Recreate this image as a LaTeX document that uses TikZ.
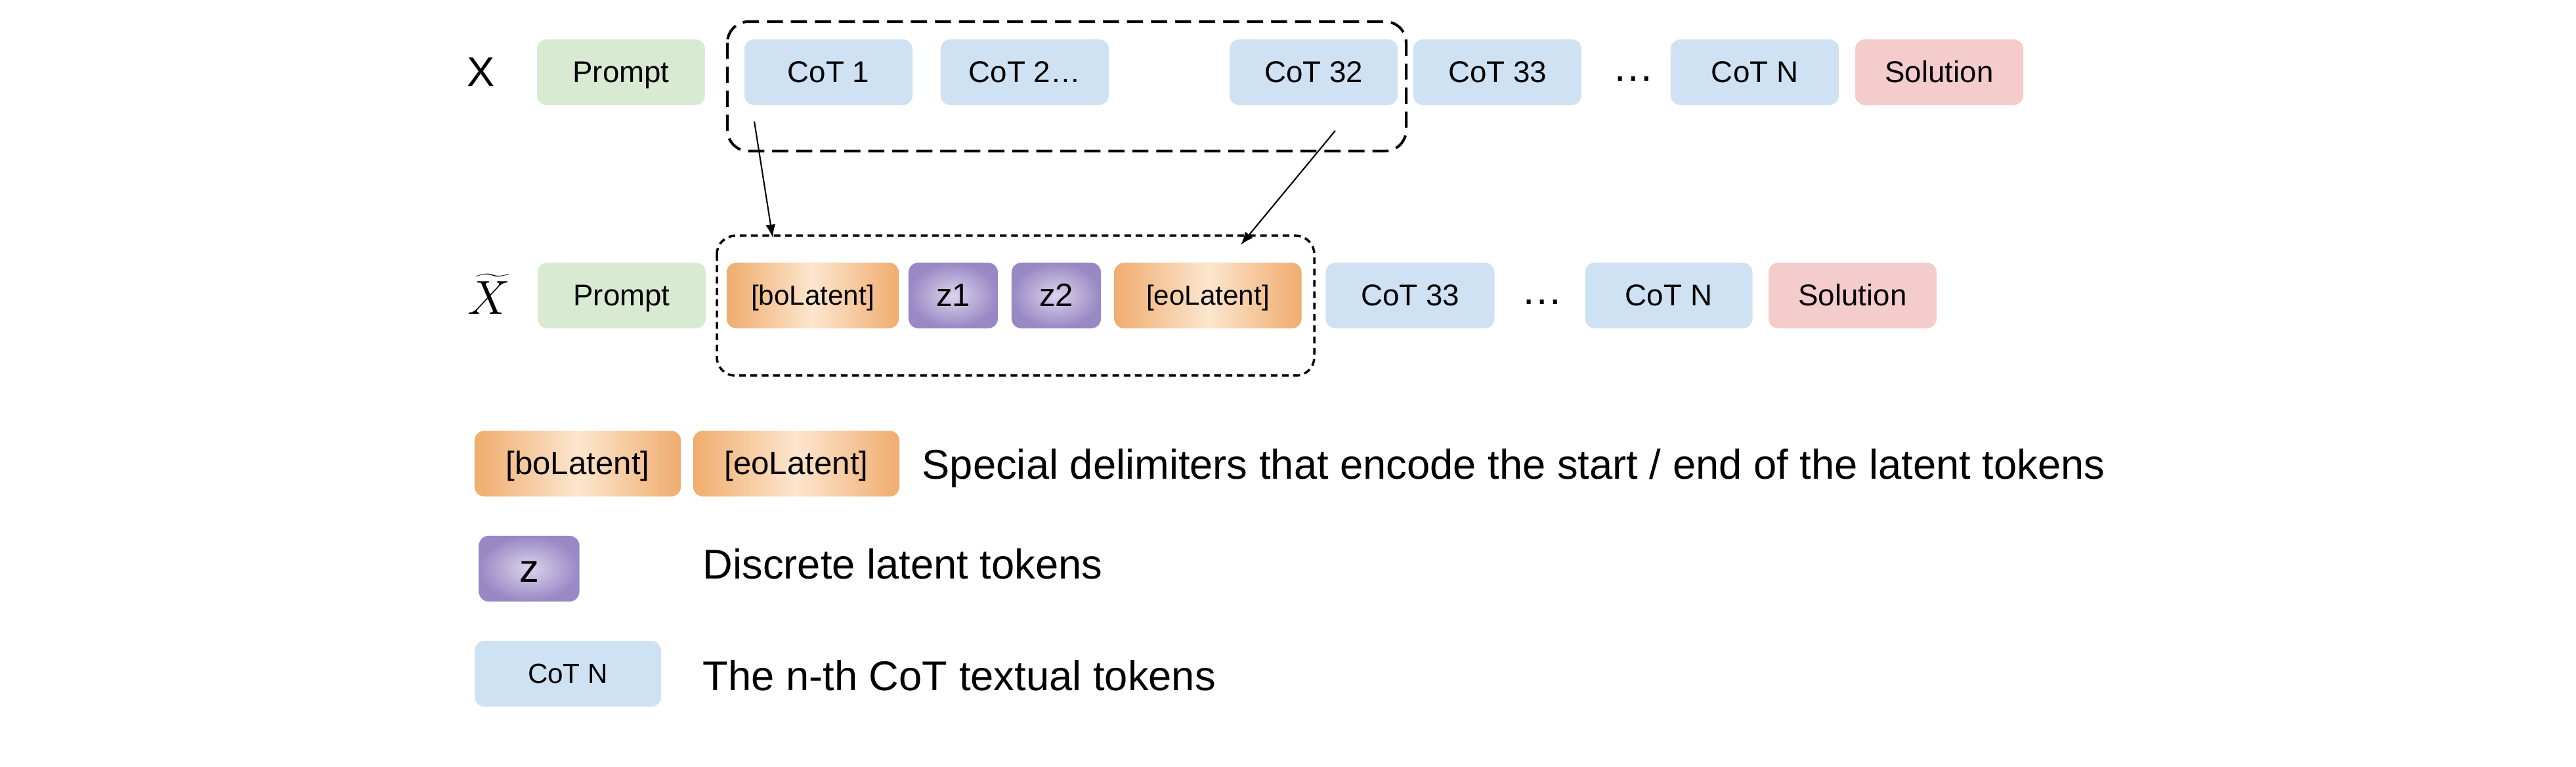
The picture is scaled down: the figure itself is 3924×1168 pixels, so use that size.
\documentclass[tikz,border=0pt]{standalone}
\usepackage{fontspec}
\setmainfont{Liberation Sans}
\usetikzlibrary{arrows.meta}
\definecolor{pgreen}{HTML}{D9EAD3}
\definecolor{pblue}{HTML}{CFE2F3}
\definecolor{ppink}{HTML}{F4CCCC}
\definecolor{oedge}{HTML}{F0AC6E}
\definecolor{ocent}{HTML}{FCE6CE}
\definecolor{vedge}{HTML}{9888C4}
\definecolor{vcent}{HTML}{DCD4EC}
\newcommand{\capc}[1]{\raisebox{0pt}[\fontcharht\font`X][0pt]{#1}}
\begin{document}
\begin{tikzpicture}[x=0.01cm,y=-0.01cm,
  tok/.style={rounded corners=0.15cm, minimum height=1cm, inner sep=0pt, text=black,
    font=\fontsize{13}{15}\selectfont},
  greenbox/.style={tok, fill=pgreen, minimum width=2.56cm},
  bluebox/.style={tok, fill=pblue, minimum width=2.56cm},
  pinkbox/.style={tok, fill=ppink, minimum width=2.56cm},
  orangebox/.style={tok, left color=oedge, right color=oedge, middle color=ocent},
  violetbox/.style={tok, inner color=vcent, outer color=vedge},
  groupbig/.style={draw, line width=1.15pt, dash pattern=on 7pt off 3.4pt, rounded corners=0.32cm},
  groupsmall/.style={draw, line width=1pt, dash pattern=on 2.9pt off 2pt, rounded corners=0.28cm},
  conn/.style={draw, line width=0.6pt, -{Latex[length=0.2cm,width=0.15cm]}},
  legtext/.style={anchor=west, inner sep=0pt, font=\fontsize{18}{21}\selectfont},
  rowlabel/.style={inner sep=0pt, font=\fontsize{18}{21}\selectfont},
  dotstext/.style={anchor=base, inner sep=0pt, font=\fontsize{18}{21}\selectfont}
]
\useasboundingbox (0,0) rectangle (3924,1168);

% dashed group boxes
\draw[groupbig] (1108,33) rectangle (2142,230);
\draw[groupsmall] (1092,359) rectangle (2002,572);

% row 1
\node[rowlabel] (xlab) at (733,110) {\capc{X}};
\node[greenbox] (p1) at (946,110) {\capc{Prompt}};
\node[bluebox] (c1) at (1262,110) {\capc{CoT 1}};
\node[bluebox] (c2) at (1561,110) {\capc{CoT 2\dots}};
\node[bluebox] (c32) at (2001,110) {\capc{CoT 32}};
\node[bluebox] (c33a) at (2281,110) {\capc{CoT 33}};
\node[dotstext] (dots1) at (2488,124) {\dots};
\node[bluebox] (cna) at (2673,110) {\capc{CoT N}};
\node[pinkbox] (sola) at (2954,110) {\capc{Solution}};

% row 2
\node[inner sep=0pt, font=\fontsize{22.5}{24}\selectfont] (xtlab) at (745,448) {$\widetilde{X}$};
\node[greenbox] (p2) at (947,450) {\capc{Prompt}};
\node[orangebox, minimum width=2.62cm, font=\fontsize{12}{14}\selectfont] (bol) at (1238,450) {\capc{[boLatent]}};
\node[violetbox, minimum width=1.36cm, font=\fontsize{14}{16}\selectfont] (z1) at (1452,450) {\capc{z1}};
\node[violetbox, minimum width=1.36cm, font=\fontsize{14}{16}\selectfont] (z2) at (1609,450) {\capc{z2}};
\node[orangebox, minimum width=2.85cm, font=\fontsize{12}{14}\selectfont] (eol) at (1840,450) {\capc{[eoLatent]}};
\node[bluebox, minimum width=2.57cm] (c33b) at (2148,450) {\capc{CoT 33}};
\node[dotstext] (dots2) at (2349,464) {\dots};
\node[bluebox, minimum width=2.55cm] (cnb) at (2542,450) {\capc{CoT N}};
\node[pinkbox] (solb) at (2822,450) {\capc{Solution}};

% connectors
\coordinate (a1s) at (1149,185);
\coordinate (a1e) at (1177,362);
\coordinate (a2s) at (2034,199);
\coordinate (a2e) at (1890,373);
\draw[conn] (a1s) -- (a1e);
\draw[conn] (a2s) -- (a2e);

% legend
\node[orangebox, minimum width=3.14cm, font=\fontsize{14}{16}\selectfont] (lbol) at (880,706) {\capc{[boLatent]}};
\node[orangebox, minimum width=3.14cm, font=\fontsize{14}{16}\selectfont] (leol) at (1213,706) {\capc{[eoLatent]}};
\node[legtext] (t1) at (1404,708) {\capc{Special delimiters that encode the start / end of the latent tokens}};
\node[violetbox, minimum width=1.53cm, font=\fontsize{17}{19}\selectfont] (lz) at (806,866) {\capc{z}};
\node[legtext] (t2) at (1070,860) {\capc{Discrete latent tokens}};
\node[bluebox, minimum width=2.84cm, font=\fontsize{12}{14}\selectfont] (lcot) at (865,1026) {\capc{CoT N}};
\node[legtext] (t3) at (1070,1030) {\capc{The n-th CoT textual tokens}};
\end{tikzpicture}
\end{document}
